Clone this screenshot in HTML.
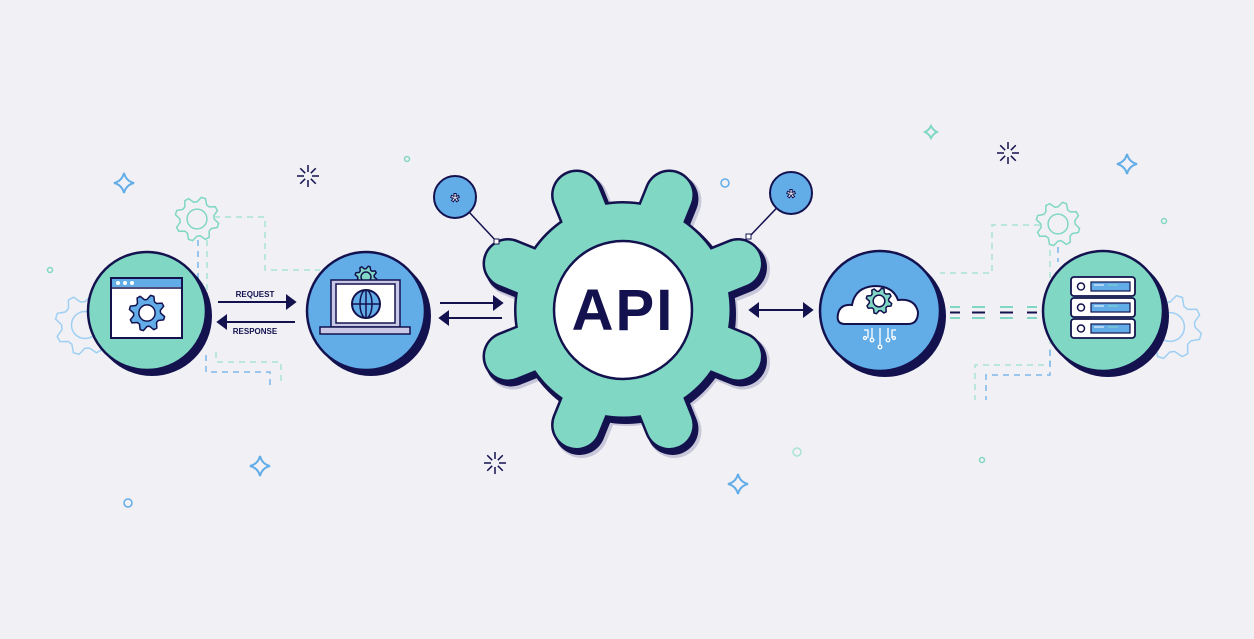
<!DOCTYPE html>
<html><head><meta charset="utf-8"><style>
html,body{margin:0;padding:0;background:#f1f0f5;}
svg{display:block}
text{font-family:"Liberation Sans",sans-serif;font-weight:bold;fill:#13124f}
</style></head><body>
<svg id="s" width="1254" height="639" viewBox="0 0 1254 639" xmlns="http://www.w3.org/2000/svg">
<rect width="1254" height="639" fill="#f1f0f5"/>
<g id="bg"></g>
<g fill="none" stroke-width="1.5" stroke-dasharray="6,5">
<path d="M214 217 H265 V270 H320" stroke="#a9e3d4"/>
<path d="M198 240 V280" stroke="#7db8ec"/>
<path d="M207 240 V290" stroke="#a9e3d4"/>
<path d="M206 355 V372 H270 V388" stroke="#7db8ec"/>
<path d="M216 352 V362 H281 V386" stroke="#a9e3d4"/>
<path d="M1040 225 H992 V273 H940" stroke="#a9e3d4"/>
<path d="M1058 247 V262" stroke="#7db8ec"/>
<path d="M1050 250 V365 H975 V400" stroke="#a9e3d4"/>
<path d="M1050 350 V375 H986 V400" stroke="#7db8ec"/>
</g>
<circle cx="152" cy="316" r="60" fill="#13124f"/>
<circle cx="147" cy="311" r="59" fill="#80d7c3" stroke="#13124f" stroke-width="2.5"/>
<rect x="111" y="278" width="71" height="60" fill="#fff" stroke="#13124f" stroke-width="2"/>
<rect x="112" y="279" width="69" height="8" fill="#62ade8"/>
<line x1="111" y1="288" x2="182" y2="288" stroke="#13124f" stroke-width="1.5"/>
<g fill="#fff"><circle cx="118" cy="283" r="2"/><circle cx="125" cy="283" r="2"/><circle cx="132" cy="283" r="2"/></g>
<g id="g1"></g>
<circle cx="371" cy="316" r="60" fill="#13124f"/>
<circle cx="366" cy="311" r="59" fill="#62ade8" stroke="#13124f" stroke-width="2.5"/>
<g id="g2"></g>
<rect x="331" y="280" width="69" height="47" fill="#c9c8e6" stroke="#13124f" stroke-width="1.5"/>
<rect x="336" y="284" width="59" height="39" fill="#fff" stroke="#13124f" stroke-width="1.5"/>
<rect x="320" y="327" width="90" height="7" fill="#c9c8e6" stroke="#13124f" stroke-width="1.5"/>
<circle cx="366" cy="304" r="14" fill="#62ade8" stroke="#13124f" stroke-width="2"/>
<ellipse cx="366" cy="304" rx="6" ry="14" fill="none" stroke="#13124f" stroke-width="1.5"/>
<line x1="352" y1="304" x2="380" y2="304" stroke="#13124f" stroke-width="1.5"/>
<line x1="366" y1="290" x2="366" y2="318" stroke="#13124f" stroke-width="1.5"/>
<g stroke="#13124f" stroke-width="2" fill="#13124f">
<line x1="218" y1="302" x2="287" y2="302"/><path d="M287 296 L295 302 L287 308Z"/>
<line x1="226" y1="322" x2="295" y2="322"/><path d="M226 316 L218 322 L226 328Z"/>
<line x1="440" y1="303" x2="494" y2="303"/><path d="M494 297 L502 303 L494 309Z"/>
<line x1="448" y1="318" x2="502" y2="318"/><path d="M448 312 L440 318 L448 324Z"/>
<line x1="758" y1="310" x2="804" y2="310"/><path d="M758 304 L750 310 L758 316Z"/><path d="M804 304 L812 310 L804 316Z"/>
</g>
<text x="255" y="297" font-size="8" text-anchor="middle">REQUEST</text>
<text x="255" y="334" font-size="8" text-anchor="middle">RESPONSE</text>
<g id="big"></g>
<circle cx="623" cy="310" r="69" fill="#fff" stroke="#13124f" stroke-width="2.5"/>
<text x="623" y="330" font-size="58" text-anchor="middle" letter-spacing="2">API</text>
<line x1="455" y1="197" x2="497" y2="242" stroke="#13124f" stroke-width="1.5"/>
<line x1="791" y1="193" x2="749" y2="237" stroke="#13124f" stroke-width="1.5"/>
<rect x="494" y="239" width="5" height="5" fill="#fff" stroke="#13124f" stroke-width="1"/>
<rect x="746" y="234" width="5" height="5" fill="#fff" stroke="#13124f" stroke-width="1"/>
<circle cx="455" cy="197" r="21" fill="#62ade8" stroke="#13124f" stroke-width="2"/>
<circle cx="791" cy="193" r="21" fill="#62ade8" stroke="#13124f" stroke-width="2"/>
<text x="455" y="209" font-size="22" text-anchor="middle" style="fill:#fff;stroke:#13124f;stroke-width:1">*</text>
<text x="791" y="205" font-size="22" text-anchor="middle" style="fill:#fff;stroke:#13124f;stroke-width:1">*</text>
<circle cx="885" cy="316" r="61" fill="#13124f"/>
<circle cx="880" cy="311" r="60" fill="#62ade8" stroke="#13124f" stroke-width="2.5"/>
<path d="M845 324 Q836 324 838 314 Q840 304 852 305 Q855 287 875 286 Q893 286 898 300 Q915 298 918 312 Q918 324 908 324 Z" fill="#fff" stroke="#13124f" stroke-width="2"/>
<g id="g3"></g>
<g stroke="#fff" stroke-width="1.3" fill="none">
<path d="M880 328 V345"/><path d="M872 328 V338 M864 330 H868 V338"/><path d="M888 328 V338 M896 330 H892 V338"/>
<circle cx="880" cy="347" r="1.8"/><circle cx="872" cy="340" r="1.8"/><circle cx="888" cy="340" r="1.8"/><circle cx="865" cy="338" r="1.5"/><circle cx="894" cy="338" r="1.5"/>
</g>
<g stroke-width="2">
<g stroke="#80d7c3"><path d="M950 307 H960 M972 307 H985 M1000 307 H1013 M1027 307 H1037"/><path d="M950 318 H960 M972 318 H985 M1000 318 H1013 M1027 318 H1037"/></g>
<path d="M950 312.5 H960 M972 312.5 H985 M1000 312.5 H1013 M1027 312.5 H1037" stroke="#13124f"/>
</g>
<circle cx="1108" cy="316" r="61" fill="#13124f"/>
<circle cx="1103" cy="311" r="60" fill="#80d7c3" stroke="#13124f" stroke-width="2.5"/>
<g id="srv"></g>
</svg>
<script>
var NS="http://www.w3.org/2000/svg";
function el(p,t,a){var e=document.createElementNS(NS,t);for(var k in a)e.setAttribute(k,a[k]);p.appendChild(e);return e;}
function gearPath(cx,cy,ro,ri,n,rot){var d="",N=n*4;for(var i=0;i<N;i++){var a=(i/N)*2*Math.PI+(rot||0);var r=(i%4<2)?ro:ri;d+=(i?"L":"M")+(cx+r*Math.cos(a)).toFixed(1)+" "+(cy+r*Math.sin(a)).toFixed(1);}return d+"Z";}
var bg=document.getElementById("bg");
function og(cx,cy,ro,col,n){el(bg,"path",{d:gearPath(cx,cy,ro,ro*0.78,n||8,0.2),fill:"none",stroke:col,"stroke-width":1.5});el(bg,"circle",{cx:cx,cy:cy,r:ro*0.45,fill:"none",stroke:col,"stroke-width":1.5});}
og(197,219,22,"#80d7c3");og(1058,224,22,"#80d7c3");og(85,325,30,"#9fd0f3");og(1170,327,32,"#9fd0f3");
[[50,270,2.5,"#80d7c3"],[407,159,2.5,"#80d7c3"],[128,503,4,"#62ade8"],[725,183,4,"#62ade8"],[797,452,4,"#a9e3d4"],[982,460,2.5,"#80d7c3"],[1164,221,2.5,"#80d7c3"]].forEach(function(c){el(bg,"circle",{cx:c[0],cy:c[1],r:c[2],fill:"none",stroke:c[3],"stroke-width":1.5});});
function spark(x,y,s,col){el(bg,"path",{d:"M"+x+" "+(y-s)+" Q"+(x+2)+" "+(y-2)+" "+(x+s)+" "+y+" Q"+(x+2)+" "+(y+2)+" "+x+" "+(y+s)+" Q"+(x-2)+" "+(y+2)+" "+(x-s)+" "+y+" Q"+(x-2)+" "+(y-2)+" "+x+" "+(y-s)+"Z",fill:"none",stroke:col,"stroke-width":2});}
spark(124,183,10,"#62ade8");spark(260,466,10,"#62ade8");spark(738,484,10,"#62ade8");spark(1127,164,10,"#62ade8");spark(931,132,6,"#80d7c3");
function burst(x,y){for(var i=0;i<8;i++){var a=i*Math.PI/4;el(bg,"line",{x1:x+4*Math.cos(a),y1:y+4*Math.sin(a),x2:x+11*Math.cos(a),y2:y+11*Math.sin(a),stroke:"#13124f","stroke-width":1.5});}}
burst(308,176);burst(495,463);burst(1008,153);
function fg(id,cx,cy,ro,fill,hole){var g=document.getElementById(id);el(g,"path",{d:gearPath(cx,cy,ro,ro*0.75,8,0.2),fill:fill,stroke:"#13124f","stroke-width":1.5,"stroke-linejoin":"round"});el(g,"circle",{cx:cx,cy:cy,r:ro*0.45,fill:hole,stroke:"#13124f","stroke-width":1.5});}
fg("g1",147,313,18,"#62ade8","#fff");fg("g2",366,277,11,"#80d7c3","#80d7c3");fg("g3",879,301,13,"#80d7c3","#fff");
var B=document.getElementById("big");
var angs=[22,68,112,158,202,248,292,338];
function layer(dx,dy,col,bw,tw){el(B,"circle",{cx:623+dx,cy:310+dy,r:bw,fill:col});angs.forEach(function(a){var r=a*Math.PI/180;el(B,"line",{x1:623+dx+95*Math.cos(r),y1:310+dy+95*Math.sin(r),x2:623+dx+124*Math.cos(r),y2:310+dy+124*Math.sin(r),stroke:col,"stroke-width":tw,"stroke-linecap":"round"});});}
layer(5,6,"#c9c8db",110,54);layer(3,4,"#13124f",110,52);layer(0,0,"#13124f",109,51);layer(0,0,"#80d7c3",106.5,46);
var S=document.getElementById("srv");
[277,298,319].forEach(function(y){el(S,"rect",{x:1071,y:y,width:64,height:19,rx:3,fill:"#fff",stroke:"#13124f","stroke-width":1.8});el(S,"circle",{cx:1081,cy:y+9.5,r:3.5,fill:"#fff",stroke:"#13124f","stroke-width":1.5});el(S,"rect",{x:1091,y:y+5,width:39,height:9,fill:"#62ade8",stroke:"#13124f","stroke-width":1.2});el(S,"line",{x1:1094,y1:y+8,x2:1104,y2:y+8,stroke:"#fff","stroke-width":1});el(S,"line",{x1:1108,y1:y+8,x2:1118,y2:y+8,stroke:"#80d7c3","stroke-width":1});});
</script>
</body></html>
